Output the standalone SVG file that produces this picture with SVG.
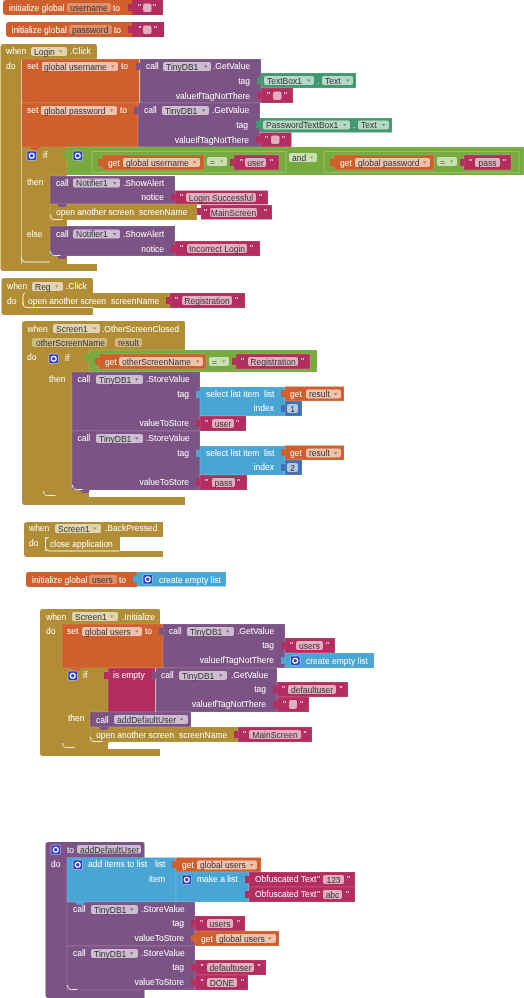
<svg xmlns="http://www.w3.org/2000/svg" width="524" height="998" viewBox="0 0 524 998">
<style>
text{font-family:"Liberation Sans",Arial,sans-serif;font-size:8.5px;fill:#fff}
.d{fill:#333}.e{text-anchor:end}.m{text-anchor:middle}
.or{fill:#d05f2d}.pu{fill:#7c5385}.pk{fill:#b32d5e}.mu{fill:#b18e35}.bl{fill:#49a6d4}.lo{fill:#77ab41}.gr{fill:#439970}.ma{fill:#3f71b5}
.b{stroke:#fff;stroke-opacity:.22;stroke-width:.6}
.c{fill:#fff;fill-opacity:.62}.c2{fill:#fff;fill-opacity:.3}
.fr{fill:none;stroke:#95c266;stroke-width:1}
.hl{fill:none;stroke:#fff;stroke-width:1;stroke-opacity:.85}
.do{fill:#d05f2d}.dp{fill:#7c5385}.dm{fill:#b18e35}.dg{fill:#439970}.dl{fill:#77ab41}
</style>
<defs>
<filter id="s" x="0" y="0" width="100%" height="100%"><feGaussianBlur stdDeviation=".3"/></filter>
<polygon id="dd" points="0,0 3.4,0 1.7,2.2"/>
<path id="nt" d="M-5 0l2 3h6l2-3z"/>
<g id="gear"><rect width="9.5" height="9.5" rx="1.5" fill="#2f3fc4" stroke="#dfe3ff" stroke-width=".5"/><circle cx="4.75" cy="4.75" r="2.4" fill="none" stroke="#fff" stroke-width="1.3"/></g>
</defs>
<g id="blocks" filter="url(#s)">
<g id="init-username">
<path class="or" d="M6 0H132V15H6Q3 15 3 12V3Q3 0 6 0Z"/><rect class="pk" x="132" y="0" width="31" height="15"/><rect class="pk" x="128" y="4" width="4" height="7"/>
<text x="9" y="10.5">initialize global</text><rect class="c2" x="67" y="3" width="44" height="9" rx="2"/><text class="d" x="70" y="10.5">username</text><text x="113" y="10.5">to</text>
<text x="138" y="10">"</text><rect class="c" x="143" y="3.5" width="8.5" height="8.5" rx="2"/><text x="153" y="10">"</text>
</g>
<g id="init-password">
<path class="or" d="M9 22H132V37H9Q6 37 6 34V25Q6 22 9 22Z"/><rect class="pk" x="132" y="22" width="32" height="15"/><rect class="pk" x="128" y="26" width="4" height="7"/>
<text x="11.5" y="32.5">initialize global</text><rect class="c2" x="69" y="25" width="43" height="9" rx="2"/><text class="d" x="72" y="32.5">password</text><text x="114" y="32.5">to</text>
<text x="138.500" y="32">"</text><rect class="c" x="143" y="25.500" width="8.500" height="8.500" rx="2"/><text x="154" y="32">"</text>
</g>

<g id="login-click">
<path class="mu" d="M3 44H95Q97 44 97 46V60H21V264H97V271H3Q.5 271 .5 268V47Q.5 44 3 44Z"/>
<text x="6" y="54">when</text><rect class="c" x="31" y="47" width="36" height="9" rx="2"/><text class="d" x="34" y="54.500">Login</text><use href="#dd" class="dm" x="59" y="50.500"/><text x="70" y="54">.Click</text>
<text x="6" y="69">do</text>
</g>
<g id="set-username">
<rect class="or b" x="21.500" y="59" width="118" height="44"/><text x="27" y="69">set</text><rect class="c" x="42" y="62" width="76" height="9" rx="2"/><text class="d" x="44" y="69.500">global username</text><use href="#dd" class="do" x="111" y="65.500"/><text x="121" y="69">to</text>
<rect class="pu b" x="140" y="59" width="121" height="44"/><rect class="pu" x="136" y="63" width="4" height="7"/>
<text x="146" y="69">call</text><rect class="c" x="163" y="62" width="48" height="9" rx="2"/><text class="d" x="166" y="69.500">TinyDB1</text><use href="#dd" class="dp" x="204" y="65.500"/><text x="213" y="69">.GetValue</text>
<text class="e" x="250" y="84">tag</text><text class="e" x="250" y="99">valueIfTagNotThere</text>
<rect class="gr b" x="261" y="73" width="95" height="15"/><rect class="gr" x="257" y="77" width="4" height="7"/>
<rect class="c" x="264" y="76" width="50" height="9" rx="2"/><text class="d" x="267" y="83.500">TextBox1</text><use href="#dd" class="dg" x="307" y="79.500"/><text x="317" y="83.500">.</text><rect class="c" x="322" y="76" width="31" height="9" rx="2"/><text class="d" x="325" y="83.500">Text</text><use href="#dd" class="dg" x="346" y="79.500"/>
<rect class="pk b" x="261" y="88" width="32" height="15"/><rect class="pk" x="257" y="92" width="4" height="7"/>
<text x="267" y="98">"</text><rect class="c" x="273" y="91.500" width="8.500" height="8.500" rx="2"/><text x="284" y="98">"</text>
<use href="#nt" class="or" x="35" y="103"/>
</g>
<g id="set-password">
<rect class="or b" x="21.500" y="103" width="116.500" height="44"/><use href="#nt" class="or" x="35" y="103"/><text x="27" y="113">set</text><rect class="c" x="41" y="106" width="76" height="9" rx="2"/><text class="d" x="44" y="113.500">global password</text><use href="#dd" class="do" x="110" y="109.500"/><text x="120" y="113">to</text>
<rect class="pu b" x="138" y="103" width="122" height="44"/><rect class="pu" x="134" y="107" width="4" height="7"/>
<text x="144" y="113">call</text><rect class="c" x="162" y="106" width="47" height="9" rx="2"/><text class="d" x="165" y="113.500">TinyDB1</text><use href="#dd" class="dp" x="202" y="109.500"/><text x="212" y="113">.GetValue</text>
<text class="e" x="248" y="128">tag</text><text class="e" x="249" y="143">valueIfTagNotThere</text>
<rect class="gr b" x="260" y="118" width="132" height="14.500"/><rect class="gr" x="256" y="121" width="4" height="7"/>
<rect class="c" x="263" y="120.500" width="87" height="9" rx="2"/><text class="d" x="266" y="128">PasswordTextBox1</text><use href="#dd" class="dg" x="343" y="124"/><text x="353" y="128">.</text><rect class="c" x="358" y="120.500" width="31" height="9" rx="2"/><text class="d" x="361" y="128">Text</text><use href="#dd" class="dg" x="382" y="124"/>
<rect class="pk b" x="260" y="132.500" width="31.500" height="14.500"/><rect class="pk" x="256" y="136" width="4" height="7"/>
<text x="265" y="142">"</text><rect class="c" x="271" y="135.500" width="8.500" height="8.500" rx="2"/><text x="282" y="142">"</text>
</g>
<g id="if-login">
<path class="mu" d="M21.500 147H67V176H50V220H67V226H50V256H67V264H21.500Z"/><use href="#nt" class="or" x="35" y="147"/><use href="#nt" class="mu" x="35" y="264"/>
<use href="#gear" x="27" y="151"/><text x="43" y="158">if</text><text x="27" y="185">then</text><text x="27" y="236.500">else</text>
<path class="hl" d="M21.500 258q0 4 4 4h24"/>
<rect class="lo b" x="67" y="147" width="457" height="28"/><rect class="lo" x="63" y="151" width="4" height="7"/>
<use href="#gear" x="73" y="151"/>
<rect class="fr" x="92" y="151.500" width="194" height="21"/><rect class="fr" x="324" y="151.500" width="195" height="21"/>
<rect class="or b" x="102" y="155" width="102" height="15"/><rect class="or" x="98" y="159" width="4" height="7"/>
<text x="108" y="165.500">get</text><rect class="c" x="123" y="158" width="77" height="9" rx="2"/><text class="d" x="126" y="165.500">global username</text><use href="#dd" class="do" x="193" y="161.500"/>
<rect class="c" x="207" y="157" width="20" height="9" rx="2"/><text class="d" x="210" y="164.500">=</text><use href="#dd" class="dl" x="220" y="160.500"/>
<rect class="pk b" x="234" y="155" width="45" height="15"/><rect class="pk" x="230" y="159" width="4" height="7"/>
<text x="240" y="165">"</text><rect class="c" x="245" y="158" width="21" height="9" rx="2"/><text class="d m" x="255.500" y="165.500">user</text><text x="270" y="165">"</text>
<rect class="c" x="289" y="153" width="28" height="9" rx="2"/><text class="d" x="292" y="160.500">and</text><use href="#dd" class="dl" x="310" y="156.500"/>
<rect class="or b" x="334" y="155" width="100" height="15"/><rect class="or" x="330" y="159" width="4" height="7"/>
<text x="340" y="165.500">get</text><rect class="c" x="355" y="158" width="75" height="9" rx="2"/><text class="d" x="358" y="165.500">global password</text><use href="#dd" class="do" x="423" y="161.500"/>
<rect class="c" x="437" y="157" width="20" height="9" rx="2"/><text class="d" x="440" y="164.500">=</text><use href="#dd" class="dl" x="450" y="160.500"/>
<rect class="pk b" x="464" y="155" width="47" height="15"/><rect class="pk" x="460" y="159" width="4" height="7"/>
<text x="469" y="165">"</text><rect class="c" x="475" y="158" width="25" height="9" rx="2"/><text class="d m" x="487.500" y="165.500">pass</text><text x="503" y="165">"</text>
</g>
<g id="alert-success">
<rect class="pu b" x="50" y="176" width="125" height="28"/><text x="56" y="186">call</text><rect class="c" x="73" y="178.500" width="47" height="9" rx="2"/><text class="d" x="76" y="186">Notifier1</text><use href="#dd" class="dp" x="113" y="182"/><text x="123" y="186">.ShowAlert</text>
<text class="e" x="164" y="200">notice</text>
<rect class="pk b" x="175" y="190.500" width="93" height="14"/><rect class="pk" x="171" y="194" width="4" height="7"/>
<text x="180" y="200">"</text><rect class="c" x="186" y="193" width="70" height="9" rx="2"/><text class="d m" x="221" y="200.500">Login Successful</text><text x="259" y="200">"</text>
</g>
<g id="open-main">
<rect class="mu b" x="50" y="204" width="147" height="16"/><use href="#nt" class="pu" x="62" y="204"/><text x="56" y="215">open another screen</text><text x="139" y="215">screenName</text>
<path class="hl" d="M50.500 215q0 4.500 4 4.500h8"/><use href="#nt" class="mu" x="62" y="220"/>
<rect class="pk b" x="201" y="205" width="71" height="14.500"/><rect class="pk" x="197" y="208" width="4" height="7"/>
<text x="204" y="215">"</text><rect class="c" x="210" y="208" width="47" height="9" rx="2"/><text class="d m" x="233.500" y="215.500">MainScreen</text><text x="264" y="215">"</text>
</g>
<g id="alert-fail">
<rect class="pu b" x="50" y="226" width="125" height="30"/><text x="56" y="237">call</text><rect class="c" x="73" y="229.500" width="47" height="9" rx="2"/><text class="d" x="76" y="237">Notifier1</text><use href="#dd" class="dp" x="113" y="233"/><text x="123" y="237">.ShowAlert</text>
<text class="e" x="164" y="251.500">notice</text><path class="hl" d="M50.500 251q0 4.500 4 4.500h6"/><use href="#nt" class="pu" x="62" y="256"/>
<rect class="pk b" x="175" y="241" width="85" height="15"/><rect class="pk" x="171" y="245" width="4" height="7"/>
<text x="180" y="251">"</text><rect class="c" x="187" y="244" width="60" height="9" rx="2"/><text class="d m" x="217" y="251.500">Incorrect Login</text><text x="250" y="251">"</text>
</g>

<g id="reg-click">
<path class="mu" d="M4 278H91Q93 278 93 280V293H170V308H93V315H4Q1.500 315 1.500 312V281Q1.500 278 4 278Z"/>
<text x="7" y="289">when</text><rect class="c" x="32" y="282" width="31" height="9" rx="2"/><text class="d" x="35" y="289.500">Reg</text><use href="#dd" class="dm" x="55" y="285.500"/><text x="66" y="289">.Click</text>
<text x="7" y="303.500">do</text><path class="hl" d="M23 305v-9q0-2.500 2-3" stroke-opacity=".6"/><path class="hl" d="M23 303q0 4.500 4 4.500h66" stroke-opacity=".5"/>
<text x="28" y="304">open another screen</text><text x="111" y="304">screenName</text>
<rect class="pk b" x="170" y="293" width="75" height="15"/><rect class="pk" x="166" y="297" width="4" height="7"/>
<text x="175" y="303">"</text><rect class="c" x="182" y="296" width="50" height="9" rx="2"/><text class="d m" x="207" y="303.500">Registration</text><text x="235" y="303">"</text>
</g>

<g id="other-screen-closed">
<path class="mu" d="M25 321H183Q185 321 185 323V350H43V497H185V505H25Q22 505 22 502V324Q22 321 25 321Z"/>
<text x="27.500" y="332">when</text><rect class="c" x="53" y="324" width="47" height="9" rx="2"/><text class="d" x="56" y="331.500">Screen1</text><use href="#dd" class="dm" x="93" y="327.500"/><text x="102" y="332">.OtherScreenClosed</text>
<rect fill="#fff" fill-opacity=".38" x="32" y="338" width="75" height="9" rx="2"/><text class="d" x="36" y="345.500">otherScreenName</text>
<rect fill="#fff" fill-opacity=".38" x="115" y="338" width="27" height="9" rx="2"/><text class="d" x="118" y="345.500">result</text>
<text x="27" y="360">do</text>
<path class="mu" d="M43 350H89V372H72V490H89V497H43Z"/><path class="hl" d="M43.500 491q0 4.500 4 4.500h8"/><use href="#nt" class="mu" x="56" y="497"/>
<use href="#gear" x="49" y="354"/><text x="65" y="361">if</text><text x="49" y="381.500">then</text>
<rect class="lo b" x="89" y="350" width="228" height="22"/><rect class="lo" x="85" y="354" width="4" height="7"/>
<rect class="or b" x="99" y="354" width="107" height="15"/><rect class="or" x="95" y="358" width="4" height="7"/>
<text x="105" y="364.500">get</text><rect class="c" x="119" y="357" width="84" height="9" rx="2"/><text class="d" x="122" y="364.500">otherScreenName</text><use href="#dd" class="do" x="196" y="360.500"/>
<rect class="c" x="209" y="357" width="20" height="9" rx="2"/><text class="d" x="212" y="364.500">=</text><use href="#dd" class="dl" x="222" y="360.500"/>
<rect class="pk b" x="236" y="354" width="74" height="15"/><rect class="pk" x="232" y="358" width="4" height="7"/>
<text x="241" y="364">"</text><rect class="c" x="248" y="357" width="50" height="9" rx="2"/><text class="d m" x="273" y="364.500">Registration</text><text x="301" y="364">"</text>
</g>
<g id="store-user">
<rect class="pu b" x="72" y="372" width="128" height="59"/><text x="77.500" y="382">call</text><rect class="c" x="96" y="375" width="47" height="9" rx="2"/><text class="d" x="99" y="382.500">TinyDB1</text><use href="#dd" class="dp" x="135" y="378.500"/><text x="146" y="382">.StoreValue</text>
<text class="e" x="189" y="397">tag</text><text class="e" x="189" y="426">valueToStore</text>
<rect class="bl b" x="200" y="387" width="85" height="29"/><rect class="bl" x="196" y="391" width="4" height="7"/>
<text x="206" y="397">select list item</text><text x="264" y="397">list</text><text class="e" x="274" y="411">index</text>
<rect class="or b" x="285" y="386.500" width="59" height="14.500"/><rect class="or" x="281" y="390" width="4" height="7"/><text x="290" y="397">get</text><rect class="c" x="306" y="389.500" width="35" height="9" rx="2"/><text class="d" x="309" y="397">result</text><use href="#dd" class="do" x="334" y="393"/>
<rect class="ma b" x="285" y="401" width="17" height="15"/><rect class="ma" x="281" y="405" width="4" height="7"/><rect class="c" x="287" y="404" width="11" height="9" rx="2"/><text class="d m" x="292.500" y="411.500">1</text>
<rect class="pk b" x="200" y="416" width="46" height="15"/><rect class="pk" x="196" y="420" width="4" height="7"/><text x="205" y="426">"</text><rect class="c" x="212" y="419" width="22" height="9" rx="2"/><text class="d m" x="223" y="426.500">user</text><text x="236" y="426">"</text>
</g>
<g id="store-pass">
<rect class="pu b" x="72" y="431" width="128" height="59"/><use href="#nt" class="pu" x="85" y="431"/><text x="77.500" y="441">call</text><rect class="c" x="96" y="434" width="47" height="9" rx="2"/><text class="d" x="99" y="441.500">TinyDB1</text><use href="#dd" class="dp" x="135" y="437.500"/><text x="146" y="441">.StoreValue</text>
<text class="e" x="189" y="456">tag</text><text class="e" x="189" y="485">valueToStore</text><path class="hl" d="M72.500 485q0 4.500 4 4.500h6"/><use href="#nt" class="pu" x="85" y="490"/>
<rect class="bl b" x="200" y="446" width="85" height="29"/><rect class="bl" x="196" y="450" width="4" height="7"/>
<text x="206" y="456">select list item</text><text x="264" y="456">list</text><text class="e" x="274" y="470">index</text>
<rect class="or b" x="285" y="445.500" width="59" height="14.500"/><rect class="or" x="281" y="449" width="4" height="7"/><text x="290" y="456">get</text><rect class="c" x="306" y="448.500" width="35" height="9" rx="2"/><text class="d" x="309" y="456">result</text><use href="#dd" class="do" x="334" y="452"/>
<rect class="ma b" x="285" y="460" width="17" height="15"/><rect class="ma" x="281" y="464" width="4" height="7"/><rect class="c" x="287" y="463" width="11" height="9" rx="2"/><text class="d m" x="292.500" y="470.500">2</text>
<rect class="pk b" x="200" y="475" width="47" height="15"/><rect class="pk" x="196" y="479" width="4" height="7"/><text x="205" y="485">"</text><rect class="c" x="212" y="478" width="23" height="9" rx="2"/><text class="d m" x="223.500" y="485.500">pass</text><text x="237" y="485">"</text>
</g>

<g id="back-pressed">
<path class="mu" d="M27 522H163V537H45V551H163V557H27Q24 557 24 554V525Q24 522 27 522Z"/>
<text x="29" y="531">when</text><rect class="c" x="55" y="524" width="46" height="9" rx="2"/><text class="d" x="58" y="531.500">Screen1</text><use href="#dd" class="dm" x="93" y="527.500"/><text x="105" y="531">.BackPressed</text>
<text x="29" y="546">do</text>
<path class="mu" d="M48 537H120V551H48Q45 551 45 548V540Q45 537 48 537Z"/><path class="hl" d="M45.500 548v-8q0-2.500 3-2.500" stroke-opacity=".6"/><path class="hl" d="M45.500 547q0 4 4 4h70" stroke-opacity=".5"/><text x="50" y="546.500">close application</text>
</g>
<g id="init-users">
<path class="or" d="M29 572H137V587H29Q26 587 26 584V575Q26 572 29 572Z"/><rect fill="#fff" fill-opacity=".3" x="89" y="575" width="28" height="9" rx="2"/>
<text x="32" y="582.500">initialize global</text><text class="d" x="92" y="582.500">users</text><text x="119" y="582.500">to</text>
<rect class="bl b" x="137" y="572" width="89" height="14.500"/><rect class="bl" x="133" y="575.500" width="4" height="7"/><use href="#gear" x="143" y="574.500"/><text x="159" y="582.500">create empty list</text>
</g>

<g id="screen-initialize">
<path class="mu" d="M43 609H158Q160 609 160 611V624H62V749H160V756H43Q40 756 40 753V612Q40 609 43 609Z"/>
<text x="46" y="619.500">when</text><rect class="c" x="72" y="612" width="46" height="9" rx="2"/><text class="d" x="75" y="619.500">Screen1</text><use href="#dd" class="dm" x="110" y="615.500"/><text x="122" y="619.500">.Initialize</text>
<text x="46" y="633.500">do</text>
<rect class="or b" x="62" y="624" width="101" height="44"/><text x="67" y="634">set</text><rect class="c" x="82" y="627" width="60" height="9" rx="2"/><text class="d" x="85" y="634.500">global users</text><use href="#dd" class="do" x="135" y="630.500"/><text x="145" y="634">to</text>
<rect class="pu b" x="163" y="624" width="122" height="44"/><rect class="pu" x="159" y="628" width="4" height="7"/>
<text x="169" y="634">call</text><rect class="c" x="187" y="627" width="47" height="9" rx="2"/><text class="d" x="190" y="634.500">TinyDB1</text><use href="#dd" class="dp" x="226" y="630.500"/><text x="237" y="634">.GetValue</text>
<text class="e" x="274" y="648">tag</text><text class="e" x="274" y="663">valueIfTagNotThere</text>
<rect class="pk b" x="285" y="638" width="50" height="15"/><rect class="pk" x="281" y="642" width="4" height="7"/><text x="290" y="648">"</text><rect class="c" x="296" y="641" width="27" height="9" rx="2"/><text class="d m" x="309.500" y="648.500">users</text><text x="326" y="648">"</text>
<rect class="bl b" x="285" y="653" width="89" height="15"/><rect class="bl" x="281" y="657" width="4" height="7"/><use href="#gear" x="290.500" y="656"/><text x="306" y="663.500">create empty list</text>
<path class="mu" d="M62 668H108V712H90V742H108V749H62Z"/><use href="#nt" class="or" x="76" y="668"/><path class="hl" d="M62.500 743q0 4.500 4 4.500h8"/><use href="#nt" class="mu" x="76" y="749"/>
<use href="#gear" x="68" y="671"/><text x="83" y="678">if</text><text x="68" y="721">then</text>
<rect class="pk b" x="108" y="668" width="47.500" height="44"/><rect class="pk" x="104" y="672" width="4" height="7"/><text x="113" y="678">is empty</text>
<rect class="pu b" x="156" y="668" width="121" height="44"/><rect class="pu" x="152" y="672" width="4" height="7"/>
<text x="161" y="678">call</text><rect class="c" x="179" y="671" width="48" height="9" rx="2"/><text class="d" x="182" y="678.500">TinyDB1</text><use href="#dd" class="dp" x="219" y="674.500"/><text x="231" y="678">.GetValue</text>
<text class="e" x="266" y="692">tag</text><text class="e" x="266" y="707">valueIfTagNotThere</text>
<rect class="pk b" x="277" y="682" width="71" height="15"/><rect class="pk" x="273" y="686" width="4" height="7"/><text x="282" y="692">"</text><rect class="c" x="288" y="685" width="48" height="9" rx="2"/><text class="d m" x="312" y="692.500">defaultuser</text><text x="339.500" y="692">"</text>
<rect class="pk b" x="277" y="697" width="32" height="15"/><rect class="pk" x="273" y="701" width="4" height="7"/><text x="283" y="707">"</text><rect class="c" x="289" y="700" width="8" height="9" rx="2"/><text x="300" y="707">"</text>
<rect class="pu b" x="90" y="712" width="101" height="15"/><text x="96" y="722.500">call</text><rect class="c" x="114" y="715" width="74" height="9" rx="2"/><text class="d" x="117" y="722.500">addDefaultUser</text><use href="#dd" class="dp" x="180" y="718.500"/>
<rect class="mu b" x="90" y="727" width="148" height="15"/><use href="#nt" class="pu" x="104" y="727"/><path class="hl" d="M90.500 737q0 4.500 4 4.500h8" stroke-opacity=".6"/><text x="96" y="737.500">open another screen</text><text x="179" y="737.500">screenName</text><use href="#nt" class="mu" x="104" y="742"/>
<rect class="pk b" x="238" y="727" width="74" height="15"/><rect class="pk" x="234" y="731" width="4" height="7"/><text x="243" y="737">"</text><rect class="c" x="249" y="730" width="52" height="9" rx="2"/><text class="d m" x="275" y="737.500">MainScreen</text><text x="303.500" y="737">"</text>
</g>

<g id="add-default-user">
<path class="pu" d="M48.500 842H142.500Q144.500 842 144.500 844V858H67V990H144.500V998H48.500Q45.500 998 45.500 995V845Q45.500 842 48.500 842Z"/>
<use href="#gear" x="51" y="845"/><text x="67" y="852.500">to</text><rect class="c" x="77" y="845" width="64" height="8.500" rx="2"/><text class="d" x="80" y="852.500">addDefaultUser</text><text x="51" y="866.500">do</text>
<rect class="bl b" x="67" y="857.500" width="109" height="44.500"/><use href="#gear" x="73" y="860"/><text x="88" y="867">add items to list</text><text x="155" y="867">list</text><text class="e" x="165" y="882">item</text>
<rect class="or b" x="176" y="857.500" width="85" height="14.500"/><rect class="or" x="172" y="861" width="4" height="7"/><text x="182" y="867.500">get</text><rect class="c" x="197" y="860.500" width="60" height="9" rx="2"/><text class="d" x="200" y="868">global users</text><use href="#dd" class="do" x="250" y="864"/>
<rect class="bl b" x="176" y="872" width="73" height="30"/><use href="#gear" x="182" y="875"/><text x="197" y="881.500">make a list</text>
<rect class="pk b" x="249" y="872" width="106" height="15"/><rect class="pk" x="245" y="876" width="4" height="7"/><text x="255" y="882">Obfuscated Text</text><text x="317" y="882">"</text><rect class="c" x="323" y="875" width="21" height="9" rx="2"/><text class="d m" x="333.500" y="882.500">123</text><text x="347" y="882">"</text>
<rect class="pk b" x="249" y="887" width="106" height="15"/><rect class="pk" x="245" y="891" width="4" height="7"/><text x="255" y="897">Obfuscated Text</text><text x="317" y="897">"</text><rect class="c" x="323" y="890" width="19" height="9" rx="2"/><text class="d m" x="332.500" y="897.500">abc</text><text x="346" y="897">"</text>
<rect class="pu b" x="67" y="902" width="128" height="44"/><use href="#nt" class="bl" x="80" y="902"/><text x="73" y="912">call</text><rect class="c" x="91" y="905" width="47" height="9" rx="2"/><text class="d" x="94" y="912.500">TinyDB1</text><use href="#dd" class="dp" x="130" y="908.500"/><text x="141" y="912">.StoreValue</text>
<text class="e" x="184" y="926">tag</text><text class="e" x="184" y="941">valueToStore</text>
<rect class="pk b" x="195" y="916" width="50" height="15"/><rect class="pk" x="191" y="920" width="4" height="7"/><text x="200" y="926">"</text><rect class="c" x="207" y="919" width="26" height="9" rx="2"/><text class="d m" x="220" y="926.500">users</text><text x="237" y="926">"</text>
<rect class="or b" x="195" y="931" width="84" height="15"/><rect class="or" x="191" y="935" width="4" height="7"/><text x="201" y="941.500">get</text><rect class="c" x="216" y="934" width="60" height="9" rx="2"/><text class="d" x="219" y="941.500">global users</text><use href="#dd" class="do" x="268" y="937.500"/>
<rect class="pu b" x="67" y="946" width="128" height="44"/><use href="#nt" class="pu" x="80" y="946"/><text x="73" y="956">call</text><rect class="c" x="91" y="949" width="47" height="9" rx="2"/><text class="d" x="94" y="956.500">TinyDB1</text><use href="#dd" class="dp" x="130" y="952.500"/><text x="141" y="956">.StoreValue</text>
<text class="e" x="184" y="970">tag</text><text class="e" x="184" y="985">valueToStore</text><path class="hl" d="M67.500 985q0 4.500 4 4.500h6"/><use href="#nt" class="pu" x="80" y="990"/>
<rect class="pk b" x="195" y="960" width="71" height="15"/><rect class="pk" x="191" y="964" width="4" height="7"/><text x="200.500" y="970">"</text><rect class="c" x="207" y="963" width="47" height="9" rx="2"/><text class="d m" x="230.500" y="970.500">defaultuser</text><text x="257.500" y="970">"</text>
<rect class="pk b" x="195" y="975" width="53" height="15"/><rect class="pk" x="191" y="979" width="4" height="7"/><text x="200.500" y="985">"</text><rect class="c" x="207" y="978" width="30" height="9" rx="2"/><text class="d m" x="222" y="985.500">DONE</text><text x="241" y="985">"</text>
</g>
</g>
</svg>
